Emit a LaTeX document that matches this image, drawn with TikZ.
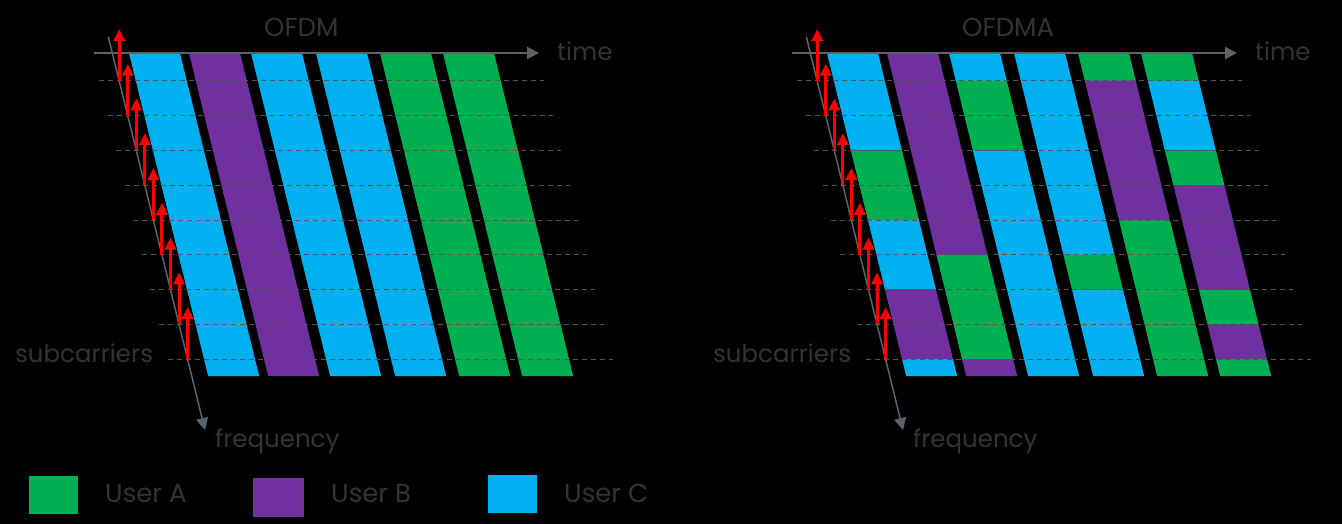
\documentclass[tikz,border=0pt]{standalone}
\usepackage{fontspec}
\setmainfont{Poppins}
\usetikzlibrary{arrows.meta}
\definecolor{usrA}{HTML}{00B050}
\definecolor{usrB}{HTML}{7030A0}
\definecolor{usrC}{HTML}{00B0F0}
\definecolor{axisgray}{HTML}{5B636B}
\definecolor{gridgray}{HTML}{555555}
\definecolor{txtgray}{HTML}{333333}
\tikzset{
  lbl/.style={text=txtgray, inner sep=0pt, anchor=base west, font=\fontsize{24.5}{28}\selectfont},
  caps/.style={lbl, font=\fontsize{26}{30}\selectfont},
  axis/.style={axisgray, line width=2pt, -{Triangle[length=12pt,width=12pt]}},
  subline/.style={gridgray, line width=1pt, dash pattern=on 5pt off 4pt},
  carrier/.style={red, line width=3pt, -{Triangle[length=12pt,width=11pt]}},
  swatch/.style={minimum width=49pt, minimum height=38pt, inner sep=0pt},
}

\begin{document}
\begin{tikzpicture}[x=1pt,y=-1pt]
\fill[black] (0,0) rectangle (1342,524);
\useasboundingbox (0,0) rectangle (1342,524);

% OFDM: each symbol belongs to one user
\begin{scope}[shift={(0,53)},xslant=-0.245]
\fill[usrC] (129,0) rectangle (180,323);
\fill[usrB] (189,0) rectangle (240,323);
\fill[usrC] (251,0) rectangle (302,323);
\fill[usrC] (316,0) rectangle (367,323);
\fill[usrA] (380,0) rectangle (431,323);
\fill[usrA] (443,0) rectangle (494,323);
\end{scope}

% OFDMA: users share the subcarriers
\begin{scope}[shift={(698,53)},xslant=-0.245]
\foreach \x/\ya/\yb/\c in {
  129/0/97.5/usrC, 129/97.5/167/usrA, 129/167/236.5/usrC, 129/236.5/306/usrB, 129/306/323/usrC,
  189/0/201.75/usrB, 189/201.75/306/usrA, 189/306/323/usrB,
  251/0/28/usrC, 251/28/97.5/usrA, 251/97.5/323/usrC,
  316/0/201.75/usrC, 316/201.75/236.5/usrA, 316/236.5/323/usrC,
  380/0/28/usrA, 380/28/167/usrB, 380/167/323/usrA,
  443/0/28/usrA, 443/28/97.5/usrC, 443/97.5/132.25/usrA, 443/132.25/236.5/usrB,
  443/236.5/271.25/usrA, 443/271.25/306/usrB, 443/306/323/usrA}
  \fill[\c] (\x,\ya) rectangle (\x+51,\yb);
\end{scope}

% axes, subcarriers, labels
\foreach \dx/\ttl/\p in {0/OFDM/l,698/OFDMA/r}{
\begin{scope}[shift={(\dx,0)}]
  \foreach \k in {0,...,8}{
    \pgfmathsetmacro\yy{81+34.75*\k}
    \pgfmathsetmacro\ax{108.3+0.2459*(\yy-36.7)}
    \draw[subline] (\ax-20,\yy) -- (\ax+425,\yy);
  }
  \coordinate (t0\p) at (94,53);
  \coordinate (t1\p) at (539,53);
  \coordinate (f0\p) at (108.3,36.7);
  \coordinate (f1\p) at (205,430);
  \draw[axis] (t0\p) -- (t1\p);
  \draw[axis, line width=1.5pt] (f0\p) -- (f1\p);
  \foreach \k in {0,...,8}{
    \pgfmathsetmacro\yy{81+34.75*\k}
    \pgfmathsetmacro\ax{108.3+0.2459*(\yy-36.7)}
    \draw[carrier] (\ax,\yy) -- (\ax,\yy-52);
  }
  \node[caps] (title\p) at (264,37) {\ttl};
  \node[lbl] (time\p) at (557,61) {time};
  \node[lbl] (sub\p) at (15,362.7) {subcarriers};
  \node[lbl] (freq\p) at (215,447) {frequency};
\end{scope}
}

% legend
\node[swatch, fill=usrA] (swA) at (53.3,495) {};
\node[caps] (usrAlbl) at (105,502.7) {User A};
\node[swatch, fill=usrB, minimum width=51pt, minimum height=39pt] (swB) at (278.7,497) {};
\node[caps] (usrBlbl) at (331,502.7) {User B};
\node[swatch, fill=usrC] (swC) at (512.8,493.9) {};
\node[caps] (usrClbl) at (564,502.7) {User C};
\end{tikzpicture}
\end{document}
